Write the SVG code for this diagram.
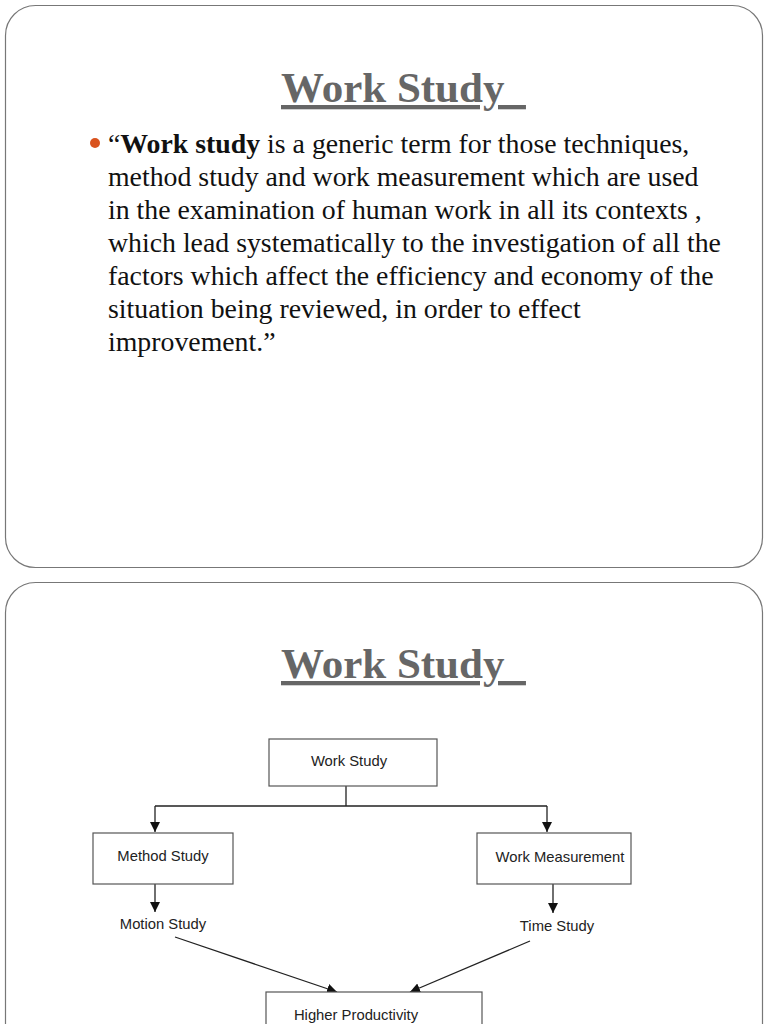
<svg xmlns="http://www.w3.org/2000/svg" width="768" height="1024" viewBox="0 0 768 1024">
<style>
.slide{fill:#fff;stroke:#777;stroke-width:1.2}
.title{font-family:"Liberation Serif",serif;font-weight:bold;font-size:43px;fill:#666;text-decoration:underline}
.body{font-family:"Liberation Serif",serif;font-size:27.8px;fill:#111}
.box{fill:#fff;stroke:#555;stroke-width:1.2}
.lbl{font-family:"Liberation Sans",sans-serif;font-size:14.8px;fill:#222}
.con{fill:none;stroke:#222;stroke-width:1.3}
</style>
<defs>
<marker id="ah" viewBox="0 0 10 10" refX="10" refY="5" markerWidth="10" markerHeight="10" markerUnits="userSpaceOnUse" orient="auto"><path d="M0,0L10,5L0,10z" fill="#111"/></marker>
</defs>
<rect width="768" height="1024" fill="#fff"/>
<g id="slide1">
<rect class="slide" x="5.5" y="5.5" width="757" height="562" rx="30"/>
<text class="title" x="281" y="102" xml:space="preserve">Work Study  </text>
<circle cx="95" cy="143" r="5" fill="#d9531e"/>
<text class="body" x="108" y="153">“<tspan font-weight="bold">Work study</tspan> is a generic term for those techniques,</text>
<text class="body" x="108" y="186">method study and work measurement which are used</text>
<text class="body" x="108" y="219">in the examination of human work in all its contexts ,</text>
<text class="body" x="108" y="252">which lead systematically to the investigation of all the</text>
<text class="body" x="108" y="285">factors which affect the efficiency and economy of the</text>
<text class="body" x="108" y="318">situation being reviewed, in order to effect</text>
<text class="body" x="108" y="351">improvement.”</text>
</g>
<g id="slide2">
<rect class="slide" x="5.5" y="582.5" width="757" height="480" rx="30"/>
<text class="title" x="281" y="678" xml:space="preserve">Work Study  </text>
</g>
<g id="connectors">
<path class="con" d="M346,786V806M155,806H547"/>
<path class="con" d="M155,806V832" marker-end="url(#ah)"/>
<path class="con" d="M547,806V832" marker-end="url(#ah)"/>
<path class="con" d="M155,884V912" marker-end="url(#ah)"/>
<path class="con" d="M553,884V913" marker-end="url(#ah)"/>
<path class="con" d="M175,937L337,992" marker-end="url(#ah)"/>
<path class="con" d="M530,941L410,992" marker-end="url(#ah)"/>
</g>
<g id="n-workstudy">
<rect class="box" x="269" y="739" width="168" height="47"/>
<text class="lbl" x="349" y="766" text-anchor="middle">Work Study</text>
</g>
<g id="n-method">
<rect class="box" x="93" y="833" width="140" height="51"/>
<text class="lbl" x="163" y="861" text-anchor="middle">Method Study</text>
</g>
<g id="n-measure">
<rect class="box" x="477" y="833" width="154" height="51"/>
<text class="lbl" x="560" y="862" text-anchor="middle">Work Measurement</text>
</g>
<g id="n-motion">
<text class="lbl" x="163" y="929" text-anchor="middle">Motion Study</text>
</g>
<g id="n-time">
<text class="lbl" x="557" y="931" text-anchor="middle">Time Study</text>
</g>
<g id="n-higher">
<rect class="box" x="266" y="992" width="216" height="50"/>
<text class="lbl" x="356" y="1020" text-anchor="middle">Higher Productivity</text>
</g>
</svg>
